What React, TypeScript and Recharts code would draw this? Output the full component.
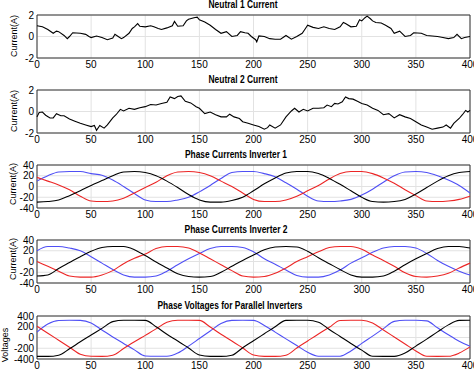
import React from "react";
import { LineChart, Line, XAxis, YAxis, CartesianGrid, ReferenceArea } from "recharts";

// time axis shared by the three-phase panels
const t10 = [0, 10, 20, 30, 40, 50, 60, 70, 80, 90, 100, 110, 120, 130, 140, 150, 160, 170, 180, 190, 200,
  210, 220, 230, 240, 250, 260, 270, 280, 290, 300, 310, 320, 330, 340, 350, 360, 370, 380, 390, 400];

const xTicks = [0, 50, 100, 150, 200, 250, 300, 350, 400];

// Neutral 1 current
const n1Time = [0, 5, 10, 15, 18, 20, 25, 28, 30, 33, 40, 45, 48, 50, 55, 60, 65, 70, 72, 75, 78, 80, 85, 88, 90, 93, 95,
  100, 105, 108, 112, 115, 120, 125, 127, 130, 135, 138, 140, 145, 148, 150, 155, 160, 165, 170, 175, 180, 185, 188, 192,
  195, 198, 202, 203, 205, 210, 215, 220, 225, 230, 235, 240, 245, 248, 250, 255, 260, 265, 270, 275, 280, 283, 285, 290,
  295, 298, 300, 303, 305, 308, 310, 313, 318, 322, 327, 330, 335, 340, 345, 348, 355, 360, 365, 370, 375, 380, 385, 388,
  392, 395, 400];
const n1Current = [1.0, 0.9, 0.65, 0.3, 0.5, 0.45, 0.1, -0.2, 0, 0.35, 0.3, 0.2, 0, -0.1, 0.05, -0.1, -0.3, -0.15, 0.2, 0,
  -0.2, -0.1, 0.3, 0.75, 0.9, 1.2, 0.95, 0.9, 1.0, 0.9, 0.75, 0.65, 0.8, 1.0, 1.4, 0.95, 1.0, 1.45, 1.6, 1.75, 1.8, 1.55,
  1.35, 1.05, 0.65, 0.3, 0.45, 0, 0.1, 0.45, 0.35, 0.3, 0, -0.3, -0.5, 0.05, 0, -0.2, -0.25, -0.25, 0.1, -0.25, 0, 0.3,
  0.75, 1.05, 0.85, 0.75, 0.9, 0.75, 0.65, 0.9, 1.3, 1.2, 0.9, 0.95, 1.55, 1.45, 1.75, 1.9, 1.65, 1.45, 1.3, 1.25, 1.05,
  0.75, 0.3, 0.5, 0, 0.1, 0.35, 0.3, 0.1, 0.05, 0, -0.1, -0.2, -0.1, 0.2, -0.2, -0.1, 0];

// Neutral 2 current
const n2Time = [0, 2, 5, 8, 12, 15, 18, 22, 25, 30, 35, 40, 45, 50, 53, 55, 58, 62, 65, 70, 73, 77, 80, 85, 90, 95, 100,
  105, 110, 115, 120, 123, 127, 130, 133, 137, 142, 147, 150, 155, 160, 165, 170, 175, 178, 182, 187, 190, 195, 200, 205,
  210, 213, 215, 220, 225, 230, 235, 238, 242, 246, 250, 255, 260, 265, 268, 272, 275, 278, 282, 285, 288, 292, 296, 300,
  305, 310, 315, 320, 325, 330, 335, 340, 345, 350, 355, 360, 365, 370, 375, 378, 382, 385, 390, 393, 396, 398, 400];
const n2Current = [-0.5, -0.1, -0.05, -0.35, -0.6, -0.6, -0.2, -0.4, -0.4, -0.7, -0.9, -1.1, -1.25, -1.4, -1.3, -1.75,
  -1.3, -1.55, -1.25, -0.6, -0.3, 0.2, 0.05, 0.3, 0.2, 0.35, 0.45, 0.65, 0.6, 0.75, 0.85, 1.35, 1.2, 1.4, 1.45, 0.95, 0.8,
  0.45, 0.3, -0.2, -0.05, -0.3, -0.5, -0.5, -0.25, -0.5, -0.65, -0.95, -1.1, -1.25, -1.4, -1.65, -1.5, -1.25, -1.55,
  -1.25, -0.5, 0.05, 0.3, -0.05, 0.2, 0.05, 0.3, 0.3, 0.35, 0.6, 0.45, 0.75, 0.7, 0.9, 1.35, 1.2, 1.15, 0.95, 0.75, 0.6,
  0.3, 0.1, -0.3, -0.2, -0.6, -0.3, -0.5, -0.65, -0.95, -1.25, -1.45, -1.65, -1.55, -1.45, -1.25, -1.55, -1.1, -0.65,
  -0.3, 0.1, -0.05, 0.1];

// Phase currents inverter 1
const inv1Blue = [10, 20, 27, 28, 28, 24, 21, 12, 0, -13, -25, -28, -28, -25, -20, -10, 2, 15, 26, 28, 28, 24, 18, 7, -5,
  -18, -27, -28, -27, -24, -16, -5, 8, 20, 27, 28, 26, 20, 12, 2, -12];
const inv1Black = [-29, -28, -25, -17, -8, 2, 11, 20, 27, 28, 26, 20, 10, -2, -15, -25, -29, -29, -26, -20, -8, 5, 16, 25,
  28, 28, 24, 15, 4, -8, -20, -28, -29, -28, -24, -14, -2, 10, 20, 26, 28];
const inv1Red = [17, 10, 3, -6, -18, -27, -28, -27, -22, -12, -2, 8, 20, 27, 28, 26, 20, 10, 0, -12, -24, -28, -28, -25,
  -18, -8, 2, 14, 24, 28, 28, 24, 16, 6, -6, -17, -27, -28, -27, -24, -18];

// Phase currents inverter 2
const inv2Blue = [20, 28, 28, 25, 20, 9, -3, -15, -25, -29, -29, -27, -18, -6, 5, 15, 24, 28, 28, 26, 18, 5, -5, -16, -26,
  -29, -29, -25, -16, -3, 7, 17, 25, 28, 28, 25, 15, 2, -9, -18, -25];
const inv2Black = [-27, -25, -13, -2, 9, 19, 26, 28, 28, 22, 11, -1, -12, -23, -28, -29, -28, -20, -9, 2, 12, 22, 27, 28,
  27, 19, 7, -4, -15, -25, -29, -29, -27, -18, -6, 5, 15, 24, 28, 28, 25];
const inv2Red = [0, -9, -18, -27, -29, -29, -25, -17, -4, 6, 14, 24, 28, 28, 25, 16, 5, -6, -17, -27, -29, -28, -22, -12,
  0, 9, 18, 26, 28, 28, 23, 12, 2, -9, -21, -28, -29, -27, -22, -12, -3];

// Phase voltages
const vBlue = [100, 250, 315, 320, 318, 270, 140, 10, -110, -230, -345, -350, -350, -290, -160, -20, 120, 260, 318, 320,
  318, 225, 100, -25, -150, -275, -348, -350, -348, -250, -110, 25, 165, 300, 320, 320, 310, 180, 50, -70, -165];
const vBlack = [-352, -352, -330, -210, -80, 45, 170, 295, 320, 320, 318, 200, 60, -65, -195, -325, -352, -352, -330,
  -190, -60, 70, 200, 318, 320, 320, 285, 150, 20, -110, -235, -350, -352, -352, -290, -160, -30, 105, 235, 318, 320];
const vRed = [210, 80, -50, -180, -310, -350, -352, -330, -205, -80, 40, 160, 285, 320, 320, 318, 195, 60, -65, -195,
  -325, -352, -352, -330, -195, -65, 65, 190, 315, 320, 320, 270, 140, 10, -120, -250, -350, -352, -350, -290, -175];

const BLUE = "#4f4ff5";
const RED = "#ec2626";
const BLACK = "#000000";
const FONT = "Liberation Sans, Arial, sans-serif";

const zip = (t: number[], cols: Record<string, number[]>) =>
  t.map((x, i) => {
    const row: Record<string, number> = { t: x };
    for (const k of Object.keys(cols)) row[k] = cols[k][i];
    return row;
  });

type Series = { key: string; color: string };

// one MATLAB-style subplot; `top` is the y of the plot box's upper edge
function Panel({ top, data, series, yMax, yTicks, smooth }: {
  top: number; data: Record<string, number>[]; series: Series[]; yMax: number; yTicks: number[]; smooth?: boolean;
}) {
  return (
    <div style={{ position: "absolute", left: 0, top: top - 8 }}>
      <LineChart width={474} height={67} data={data} margin={{ top: 8, right: 4, left: 0, bottom: 0 }}>
        <CartesianGrid stroke="#e2e2e2" />
        <XAxis dataKey="t" type="number" domain={[0, 400]} ticks={xTicks} interval={0} tickLine={false}
          axisLine={false} tickSize={0} tickMargin={3} height={16}
          tick={{ fontSize: 10, fill: "#000", fontFamily: FONT }} />
        <YAxis type="number" domain={[-yMax, yMax]} ticks={yTicks} interval={0} tickLine={false} axisLine={false}
          tickSize={0} tickMargin={3} width={37}
          tick={{ fontSize: 10, fill: "#000", fontFamily: FONT }} />
        {series.map((s) => (
          <Line key={s.key} dataKey={s.key} type={smooth ? "monotone" : "linear"} stroke={s.color} strokeWidth={1.1}
            dot={false} isAnimationActive={false} />
        ))}
        <ReferenceArea x1={0} x2={400} y1={-yMax} y2={yMax} fill="none" stroke="#333" strokeWidth={1}
          ifOverflow="visible" />
      </LineChart>
    </div>
  );
}

const titles = [
  { text: "Neutral 1 Current", x: 243, y: 8, len: 69 },
  { text: "Neutral 2 Current", x: 243, y: 83, len: 69 },
  { text: "Phase Currents Inverter 1", x: 236, y: 158, len: 102 },
  { text: "Phase Currents Inverter 2", x: 236, y: 233, len: 103 },
  { text: "Phase Voltages for Parallel Inverters", x: 230, y: 309, len: 145 },
];

const yLabels = [
  { text: "Current(A)", x: 15, y: 36 },
  { text: "Current(A)", x: 15, y: 111 },
  { text: "Current(A)", x: 14, y: 184 },
  { text: "Current(A)", x: 14, y: 259 },
  { text: "Voltages", x: 6, y: 345 },
];

export default function App() {
  const n1 = zip(n1Time, { n1: n1Current });
  const n2 = zip(n2Time, { n2: n2Current });
  const inv1 = zip(t10, { b: inv1Blue, k: inv1Black, r: inv1Red });
  const inv2 = zip(t10, { b: inv2Blue, k: inv2Black, r: inv2Red });
  const volt = zip(t10, { b: vBlue, k: vBlack, r: vRed });
  const phase: Series[] = [
    { key: "b", color: BLUE },
    { key: "r", color: RED },
    { key: "k", color: BLACK },
  ];

  return (
    <div style={{ position: "absolute", left: 0, top: 0, width: 474, height: 369, overflow: "hidden", background: "#fff" }}>
      <Panel top={15} data={n1} series={[{ key: "n1", color: BLACK }]} yMax={2} yTicks={[-2, 0, 2]} />
      <Panel top={90} data={n2} series={[{ key: "n2", color: BLACK }]} yMax={2} yTicks={[-2, 0, 2]} />
      <Panel top={165} data={inv1} series={phase} yMax={40} yTicks={[-40, -20, 0, 20, 40]} smooth />
      <Panel top={240} data={inv2} series={phase} yMax={40} yTicks={[-40, -20, 0, 20, 40]} smooth />
      <Panel top={316} data={volt} series={phase} yMax={400} yTicks={[-400, -200, 0, 200, 400]} smooth />
      <svg width={474} height={369} style={{ position: "absolute", left: 0, top: 0, pointerEvents: "none" }}>
        {titles.map((t) => (
          <text key={t.text + t.y} x={t.x} y={t.y} textAnchor="middle" fontSize={10} fontWeight="bold" fontFamily={FONT}
            textLength={t.len} lengthAdjust="spacingAndGlyphs">{t.text}</text>
        ))}
        {yLabels.map((l) => (
          <text key={l.text + l.y} x={l.x} y={l.y} textAnchor="middle" fontSize={9} fontFamily={FONT}
            transform={`rotate(-90 ${l.x} ${l.y})`} dominantBaseline="middle">{l.text}</text>
        ))}
      </svg>
    </div>
  );
}
